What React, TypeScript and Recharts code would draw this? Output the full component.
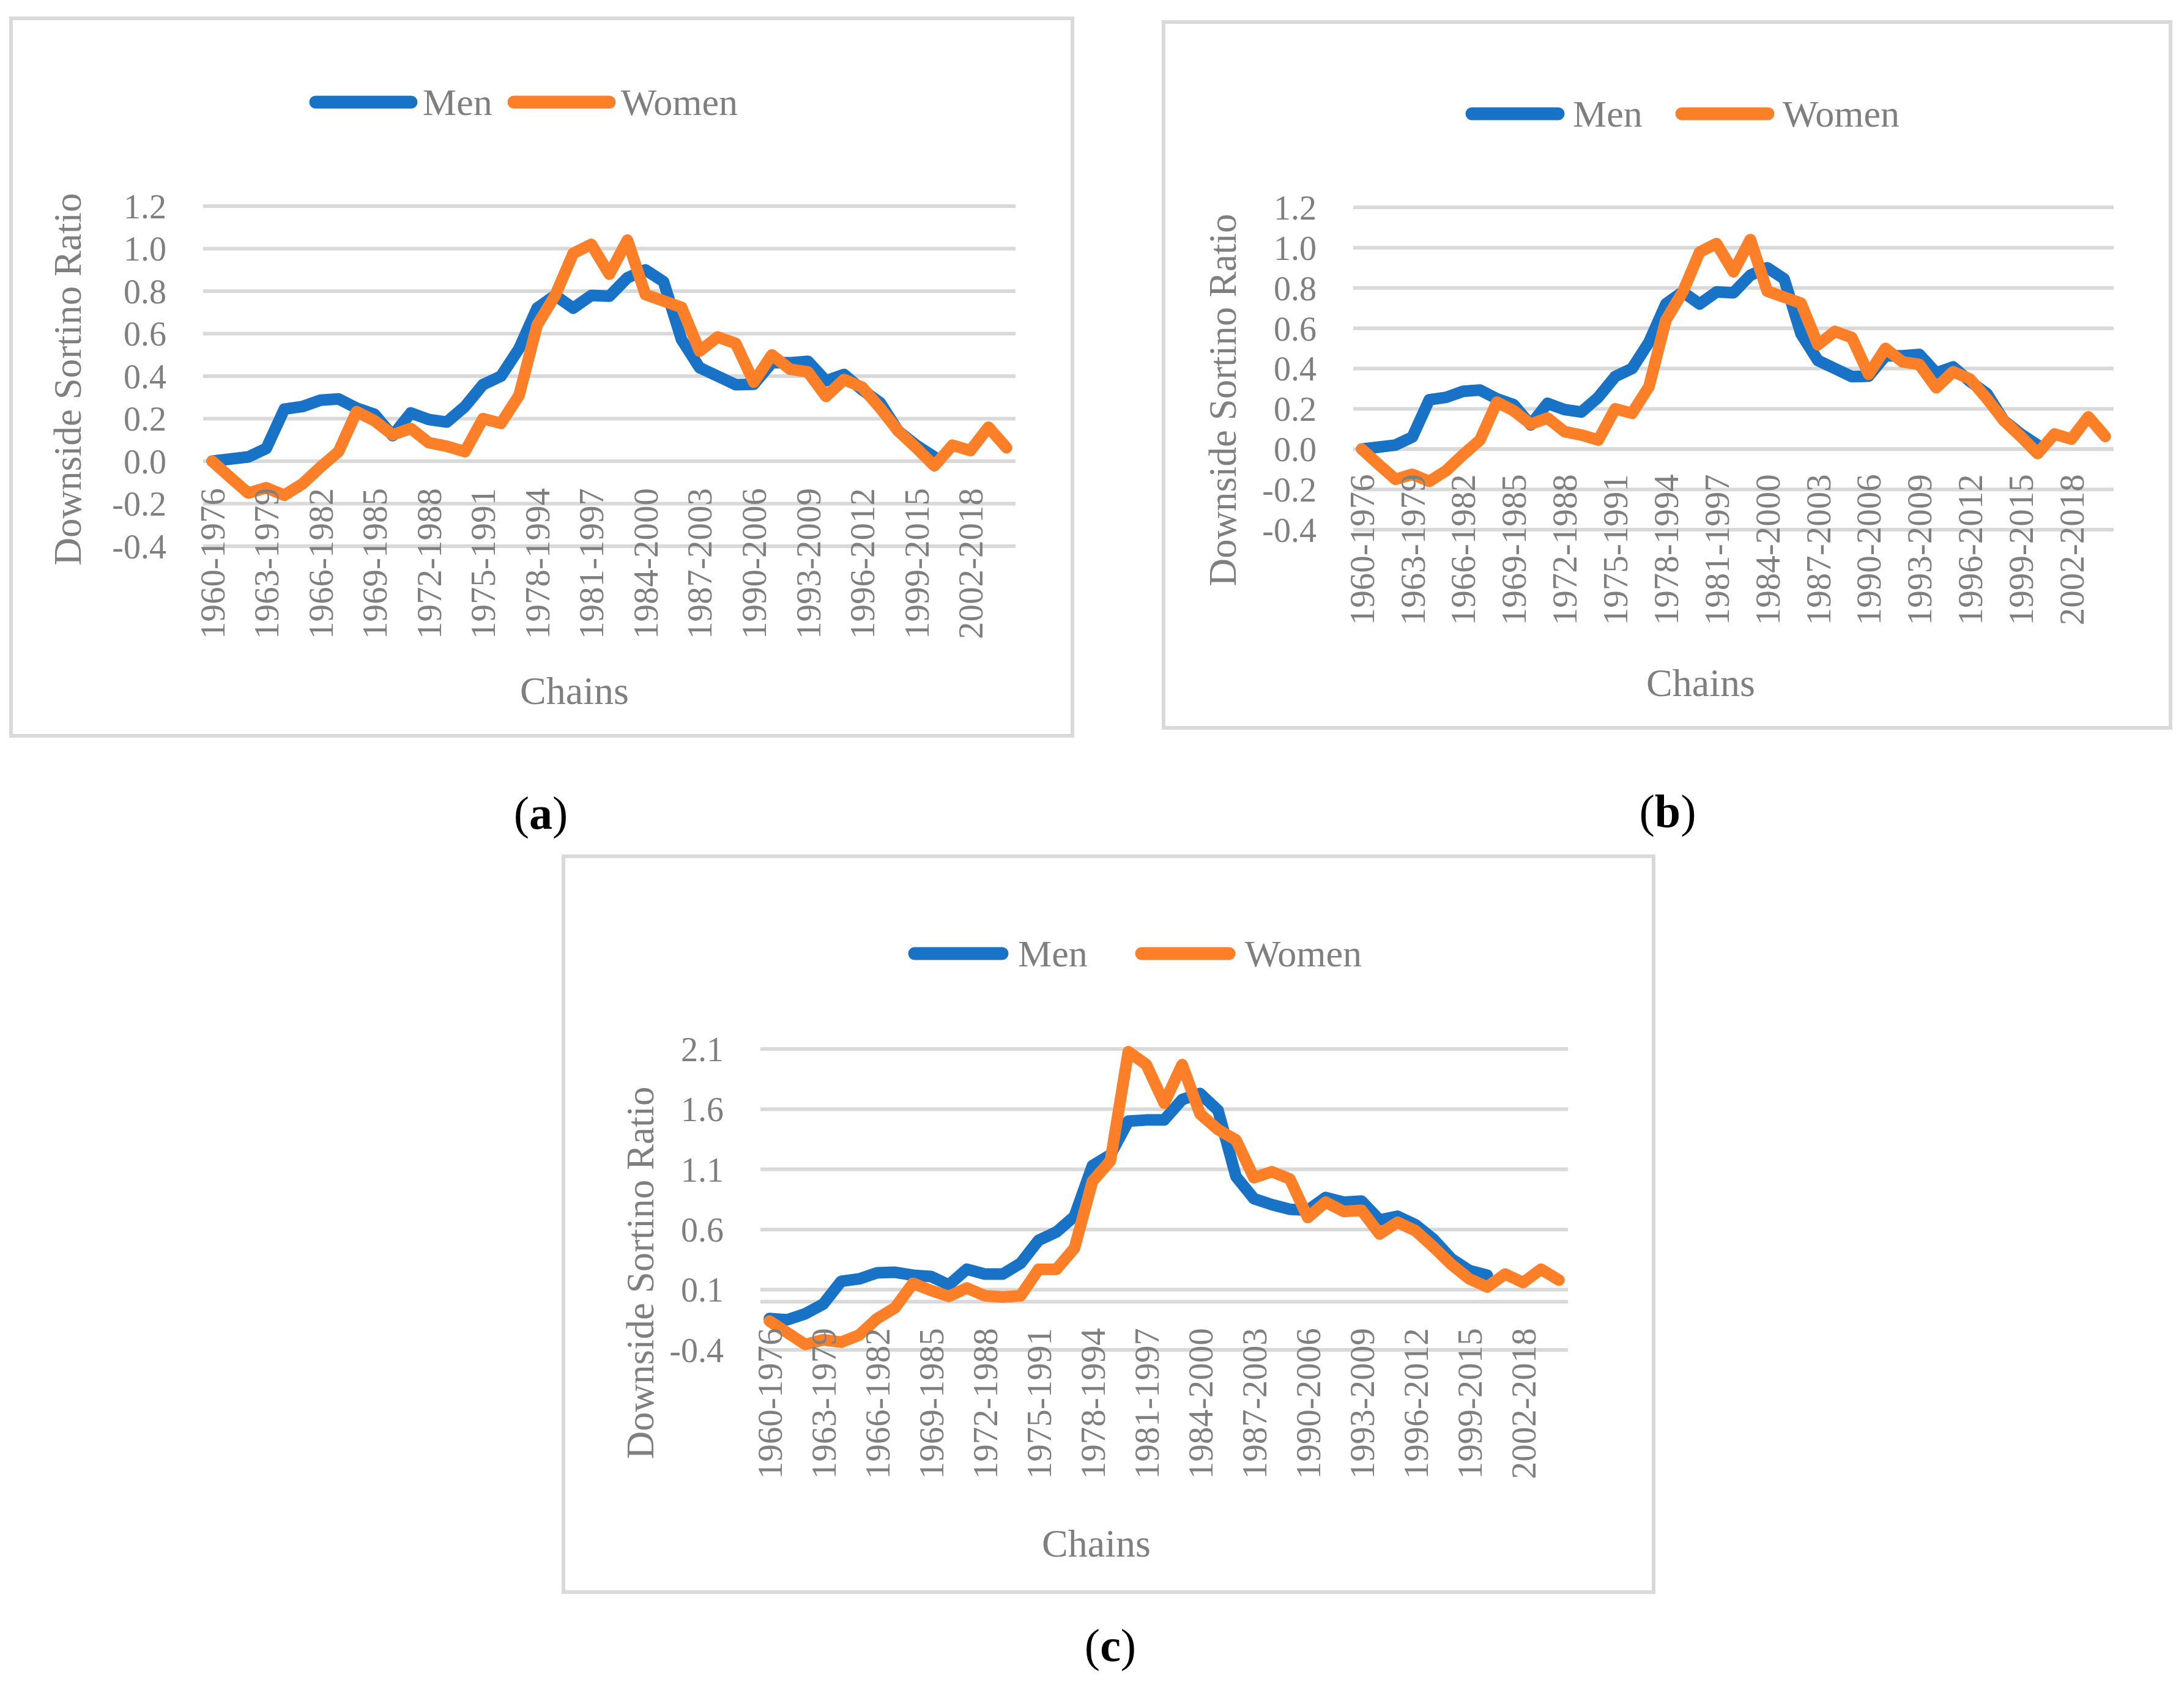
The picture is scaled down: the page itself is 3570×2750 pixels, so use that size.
import React from 'react';
import { LineChart, Line, XAxis, YAxis, CartesianGrid, Legend, ReferenceLine } from 'recharts';

const chains = [
  '1960-1976', '1961-1977', '1962-1978', '1963-1979', '1964-1980', '1965-1981', '1966-1982', '1967-1983',
  '1968-1984', '1969-1985', '1970-1986', '1971-1987', '1972-1988', '1973-1989', '1974-1990', '1975-1991',
  '1976-1992', '1977-1993', '1978-1994', '1979-1995', '1980-1996', '1981-1997', '1982-1998', '1983-1999',
  '1984-2000', '1985-2001', '1986-2002', '1987-2003', '1988-2004', '1989-2005', '1990-2006', '1991-2007',
  '1992-2008', '1993-2009', '1994-2010', '1995-2011', '1996-2012', '1997-2013', '1998-2014', '1999-2015',
  '2000-2016', '2001-2017', '2002-2018', '2003-2019', '2004-2020',
];

// Panels (a) and (b)
const menAB = [
  0.0, 0.01, 0.02, 0.06, 0.245, 0.257, 0.287, 0.293, 0.25, 0.22,
  0.12, 0.227, 0.196, 0.184, 0.257, 0.36, 0.40, 0.53, 0.72, 0.78,
  0.72, 0.78, 0.776, 0.863, 0.90, 0.845, 0.572, 0.44, 0.40, 0.36,
  0.362, 0.463, 0.463, 0.47, 0.378, 0.408, 0.336, 0.275, 0.142, 0.075,
  0.02,
];
const womenAB = [
  0.0, -0.076, -0.15, -0.125, -0.16, -0.107, -0.028, 0.045, 0.233, 0.19,
  0.124, 0.154, 0.087, 0.07, 0.045, 0.20, 0.178, 0.31, 0.64, 0.78,
  0.978, 1.02, 0.88, 1.04, 0.784, 0.754, 0.724, 0.518, 0.584, 0.554,
  0.372, 0.50, 0.433, 0.42, 0.305, 0.384, 0.348, 0.25, 0.142, 0.063,
  -0.022, 0.075, 0.05, 0.16, 0.063,
];

// Panel (c)
const menC = [
  -0.14, -0.15, -0.1, -0.02, 0.17, 0.19, 0.24, 0.245, 0.22, 0.21,
  0.14, 0.27, 0.23, 0.23, 0.32, 0.51, 0.58, 0.71, 1.13, 1.22,
  1.50, 1.51, 1.51, 1.68, 1.73, 1.59, 1.04, 0.856, 0.807, 0.768,
  0.76, 0.866, 0.827, 0.836, 0.68, 0.71, 0.64, 0.52, 0.358, 0.26,
  0.22,
];
const womenC = [
  -0.16, -0.257, -0.355, -0.316, -0.336, -0.277, -0.14, -0.05, 0.153, 0.094,
  0.045, 0.114, 0.05, 0.04, 0.05, 0.27, 0.27, 0.446, 1.0, 1.17,
  2.077, 1.97, 1.65, 1.97, 1.56, 1.43, 1.344, 1.03, 1.08, 1.02,
  0.70, 0.827, 0.75, 0.76, 0.563, 0.66, 0.59, 0.455, 0.31, 0.19,
  0.123, 0.23, 0.16, 0.27, 0.18,
];

const ticksAB = [-0.4, -0.2, 0.0, 0.2, 0.4, 0.6, 0.8, 1.0, 1.2];
const ticksC = [-0.4, 0.1, 0.6, 1.1, 1.6, 2.1];

const BLUE = '#1872c6';
const ORANGE = '#fd7f28';
const GRAY = '#7f7f7f';
const GRID = '#d9d9d9';
const FONT = '"Liberation Serif", "Times New Roman", serif';

type Cfg = {
  box: { l: number; t: number; r: number; b: number };
  plot: { l: number; t: number; r: number; b: number };
  domain: [number, number];
  legend: { x: number; y: number; lineLen: number; textGap: number; itemGap: number };
  yTitle: { x: number; y: number };
  xTitle: { x: number; y: number };
  tag: { x: number; y: number; text: string };
  labelGap: number;
};

const cfgA: Cfg = {
  box: { l: 15, t: 27, r: 1756, b: 1206 },
  plot: { l: 332, t: 337, r: 1660, b: 893 },
  domain: [-0.4, 1.2],
  legend: { x: 505, y: 167, lineLen: 178, textGap: 8, itemGap: 24 },
  yTitle: { x: 110, y: 620 },
  xTitle: { x: 939, y: 1129 },
  tag: { x: 884, y: 1329, text: 'a' },
  labelGap: 44,
};
const cfgB: Cfg = {
  box: { l: 1899, t: 33, r: 3551, b: 1193 },
  plot: { l: 2212, t: 339, r: 3455, b: 866 },
  domain: [-0.4, 1.2],
  legend: { x: 2395, y: 186, lineLen: 163, textGap: 13, itemGap: 53 },
  yTitle: { x: 1998, y: 654 },
  xTitle: { x: 2780, y: 1116 },
  tag: { x: 2726, y: 1326, text: 'b' },
  labelGap: 41,
};
const cfgC: Cfg = {
  box: { l: 918, t: 1397, r: 2706, b: 2606 },
  plot: { l: 1243, t: 1715, r: 2563, b: 2207 },
  domain: [-0.4, 2.1],
  legend: { x: 1484, y: 1559, lineLen: 165, textGap: 15, itemGap: 77 },
  yTitle: { x: 1046, y: 2081 },
  xTitle: { x: 1792, y: 2523 },
  tag: { x: 1815, y: 2690, text: 'c' },
  labelGap: 43,
};

function Panel({ cfg, men, women, ticks }: { cfg: Cfg; men: number[]; women: number[]; ticks: number[] }) {
  const { box, plot } = cfg;
  const W = box.r - box.l;
  const H = box.b - box.t;
  const yAxisW = 200;
  const xAxisH = 30;
  const pl = plot.l - box.l;
  const pt = plot.t - box.t;
  const pr = box.r - plot.r;
  const pb = box.b - plot.b;
  const [dmin, dmax] = cfg.domain;
  const plotH = plot.b - plot.t;
  const zeroY = pt + (plotH * dmax) / (dmax - dmin);
  const anchorY = zeroY + cfg.labelGap;
  const half = (plot.r - plot.l) / chains.length / 2;

  const data = chains.map((c, i) => ({
    chain: c,
    men: i < men.length ? men[i] : null,
    women: i < women.length ? women[i] : null,
  }));

  const renderXTick = (props: any) => {
    const { x, payload } = props;
    return (
      <text
        x={x}
        y={anchorY}
        transform={`rotate(-90 ${x} ${anchorY})`}
        textAnchor="end"
        dy="0.35em"
        fill={GRAY}
        fontSize={57}
        fontFamily={FONT}
      >
        {payload.value}
      </text>
    );
  };

  const xtx = cfg.xTitle.x - box.l;
  const xty = cfg.xTitle.y - box.t;
  const ytx = cfg.yTitle.x - box.l;
  const yty = cfg.yTitle.y - box.t;

  const renderXTitle = () => (
    <text x={xtx} y={xty} textAnchor="middle" dy="0.35em" fill={GRAY} fontSize={64} fontFamily={FONT}>
      Chains
    </text>
  );
  const renderYTitle = () => (
    <text
      x={ytx}
      y={yty}
      transform={`rotate(-90 ${ytx} ${yty})`}
      textAnchor="middle"
      dy="0.35em"
      fill={GRAY}
      fontSize={63}
      fontFamily={FONT}
    >
      Downside Sortino Ratio
    </text>
  );

  const lg = cfg.legend;
  const renderLegend = (props: any) => {
    const payload = props.payload || [];
    return (
      <div style={{ display: 'flex', alignItems: 'center', height: 80 }}>
        {payload.map((p: any, i: number) => (
          <div key={p.value} style={{ display: 'flex', alignItems: 'center', marginLeft: i ? lg.itemGap : 0 }}>
            <svg width={lg.lineLen} height={24} style={{ display: 'block' }}>
              <line x1={11} y1={12} x2={lg.lineLen - 11} y2={12} stroke={p.color} strokeWidth={21} strokeLinecap="round" />
            </svg>
            <span
              style={{
                marginLeft: lg.textGap,
                fontSize: 62,
                lineHeight: '80px',
                color: GRAY,
                fontFamily: FONT,
                whiteSpace: 'nowrap',
              }}
            >
              {p.value}
            </span>
          </div>
        ))}
      </div>
    );
  };

  return (
    <>
      <div
        style={{
          position: 'absolute',
          left: box.l,
          top: box.t,
          width: W,
          height: H,
          border: `6px solid ${GRID}`,
          boxSizing: 'border-box',
        }}
      />
      <div style={{ position: 'absolute', left: box.l, top: box.t, width: W, height: H }}>
        <LineChart
          width={W}
          height={H}
          data={data}
          margin={{ top: pt, right: pr, bottom: pb - xAxisH, left: pl - yAxisW }}
        >
          <CartesianGrid vertical={false} stroke={GRID} strokeWidth={6} />
          <ReferenceLine y={0} stroke={GRID} strokeWidth={6} />
          <XAxis
            dataKey="chain"
            interval={2}
            height={xAxisH}
            axisLine={false}
            tickLine={false}
            padding={{ left: half, right: half }}
            tick={renderXTick}
            label={{ value: 'Chains', content: renderXTitle }}
          />
          <YAxis
            width={yAxisW}
            domain={cfg.domain}
            ticks={ticks}
            interval={0}
            axisLine={false}
            tickLine={false}
            tickSize={0}
            tickMargin={60}
            tickFormatter={(v: number) => v.toFixed(1)}
            tick={{ fill: GRAY, fontSize: 56, fontFamily: FONT }}
            label={{ value: 'Downside Sortino Ratio', content: renderYTitle }}
          />
          <Legend
            layout="horizontal"
            verticalAlign="middle"
            align="center"
            content={renderLegend}
            wrapperStyle={{ left: lg.x - box.l, top: lg.y - box.t - 40, width: 'auto', height: 80, margin: 0 }}
          />
          <Line
            type="linear"
            dataKey="men"
            name="Men"
            stroke={BLUE}
            strokeWidth={19}
            strokeLinejoin="round"
            strokeLinecap="round"
            dot={false}
            activeDot={false}
            isAnimationActive={false}
          />
          <Line
            type="linear"
            dataKey="women"
            name="Women"
            stroke={ORANGE}
            strokeWidth={19}
            strokeLinejoin="round"
            strokeLinecap="round"
            dot={false}
            activeDot={false}
            isAnimationActive={false}
          />
        </LineChart>
      </div>
      <div
        style={{
          position: 'absolute',
          left: cfg.tag.x - 100,
          top: cfg.tag.y - 50,
          width: 200,
          height: 100,
          lineHeight: '100px',
          textAlign: 'center',
          fontSize: 76,
          color: '#000',
          fontFamily: FONT,
        }}
      >
        (<b>{cfg.tag.text}</b>)
      </div>
    </>
  );
}

export default function App() {
  return (
    <div
      style={{
        position: 'absolute',
        left: 0,
        top: 0,
        width: 3570,
        height: 2750,
        background: '#ffffff',
        overflow: 'hidden',
        fontFamily: FONT,
      }}
    >
      <Panel cfg={cfgA} men={menAB} women={womenAB} ticks={ticksAB} />
      <Panel cfg={cfgB} men={menAB} women={womenAB} ticks={ticksAB} />
      <Panel cfg={cfgC} men={menC} women={womenC} ticks={ticksC} />
    </div>
  );
}
